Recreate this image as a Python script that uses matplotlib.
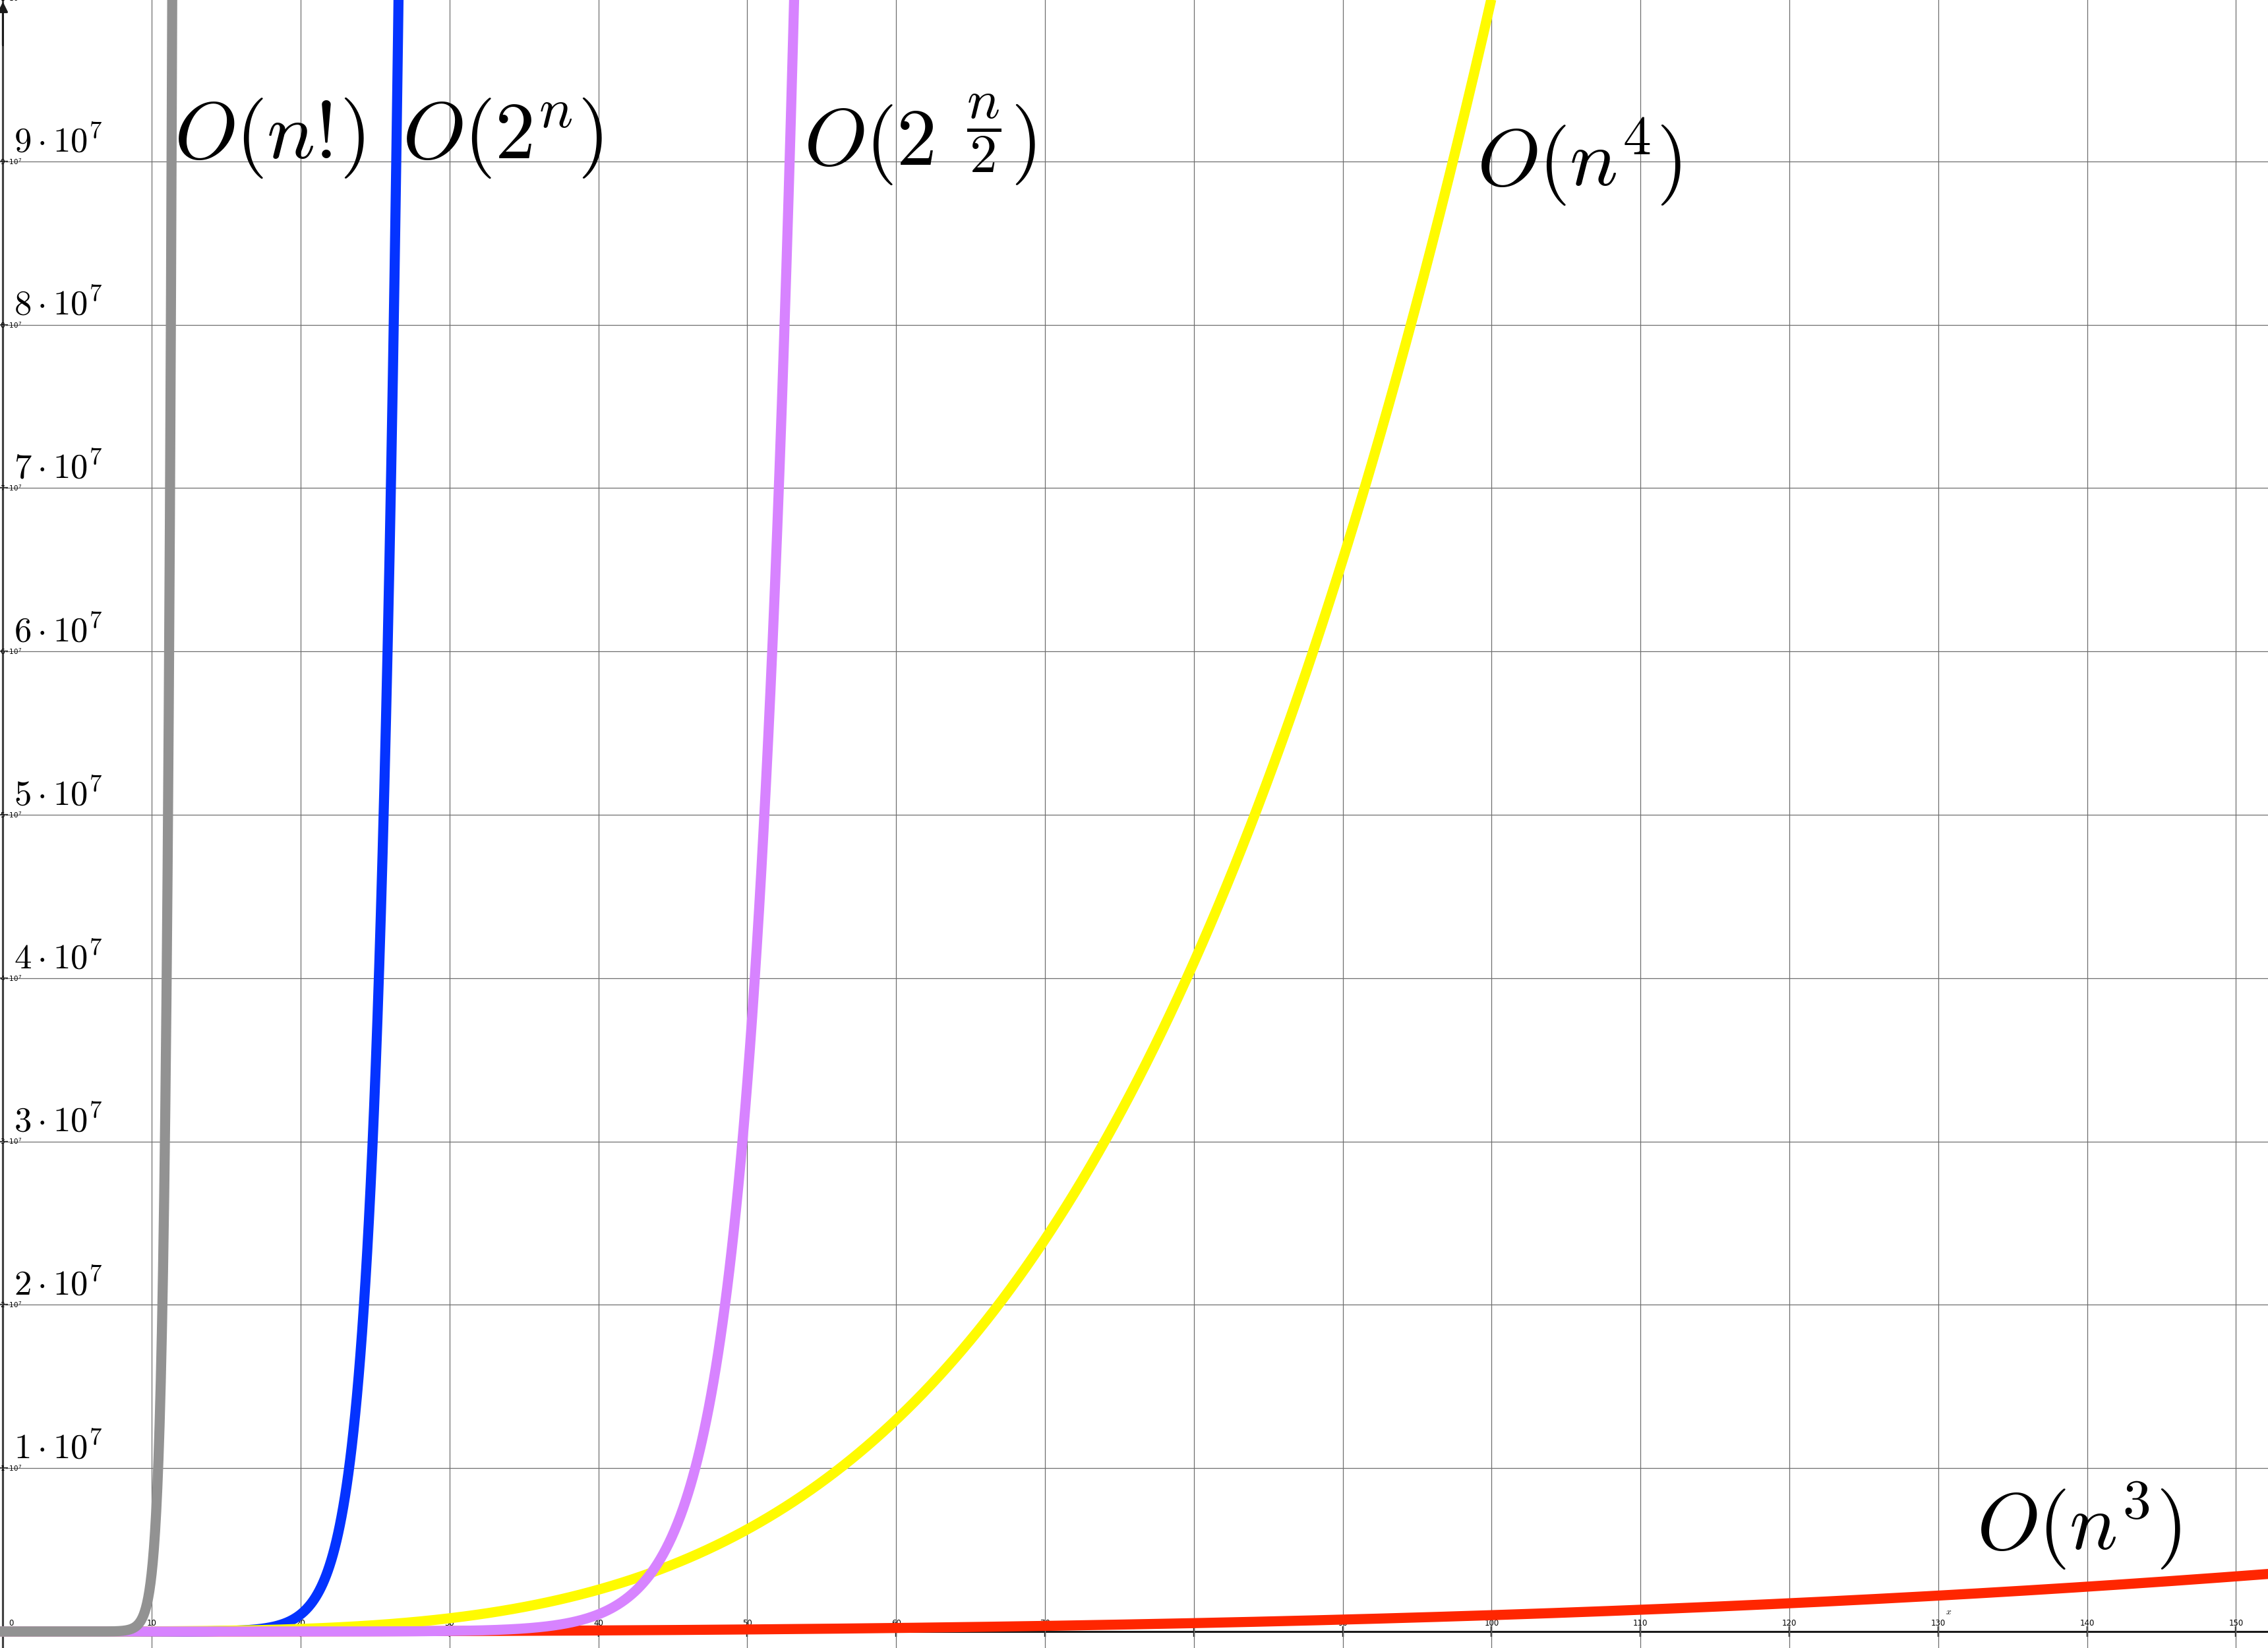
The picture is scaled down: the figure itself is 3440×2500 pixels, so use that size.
import math
import numpy as np
import matplotlib
matplotlib.use('Agg')
import matplotlib.pyplot as plt

plt.rcParams['mathtext.fontset'] = 'cm'

# growth functions shown on the chart
labels = [r'$O(n!\!)$', r'$O(2^n)$', r'$O(2\hspace{1.05})$', r'$O(n^4)$', r'$O(n^3)$']
colours = ['#929292', '#0433ff', '#d783ff', '#fffb00', '#ff2600']
layer = [5, 2, 4, 3, 1]
# label anchors (n, value)
label_x = [11.5, 26.8, 53.8, 99.0, 132.6]
label_y = [9.02e7, 9.02e7, 8.98e7, 8.85e7, 0.50e7]
# raised exponent of the 2^(n/2) label
frac_text = r'$\dfrac{n}{2}$'
frac_x, frac_y = 65.9, 9.17e7

x_ticks = [0, 10, 20, 30, 40, 50, 60, 70, 80, 90, 100, 110, 120, 130, 140, 150]
y_ticks = [1, 2, 3, 4, 5, 6, 7, 8, 9]  # multiples of 10^7

n = np.linspace(-0.2, 153, 4000)
curves = [
    np.array([math.exp(math.lgamma(v + 1)) if v < 15 else np.nan for v in n]),
    np.where(n < 30, 2.0 ** n, np.nan),
    np.where(n < 60, 2.0 ** (n / 2), np.nan),
    n ** 4,
    n ** 3,
]

fig = plt.figure(figsize=(34.41, 25), dpi=100)
ax = fig.add_axes([0, 0, 1, 1])
ax.set_xlim(-0.195, 152.2)
ax.set_ylim(-1.01e6, 9.988e7)

# grid
ax.set_xticks(x_ticks)
ax.set_yticks([k * 1e7 for k in y_ticks])
ax.grid(True, color='#6e6e6e', linewidth=0.9)
ax.tick_params(length=0, labelbottom=False, labelleft=False)
for s in ax.spines.values():
    s.set_visible(False)

# axes through the origin
ax.axhline(0, color='#1a1a1a', linewidth=2.2, zorder=0.5)
ax.axvline(0, color='#1a1a1a', linewidth=2.2, zorder=0.5)
for v in x_ticks[1:]:
    ax.plot([v, v], [0, 0], marker='|', markersize=11, color='#1a1a1a', mew=1.6, zorder=0.6)
for k in y_ticks:
    ax.plot(0, k * 1e7, marker='_', markersize=11, color='#1a1a1a', mew=1.6, zorder=0.6)
ax.annotate('', xy=(0, 9.988e7), xytext=(0, 9.7e7),
            arrowprops=dict(arrowstyle='-|>', color='#1a1a1a', lw=2.2, mutation_scale=22),
            annotation_clip=False)

# small tick labels
ax.annotate('0', (0, 0), xytext=(9, 4), textcoords='offset points', ha='center', va='bottom',
            fontsize=8.5, family='DejaVu Sans')
for v in x_ticks[1:]:
    ax.annotate(str(v), (v, 0), xytext=(0, 4), textcoords='offset points', ha='center',
                va='bottom', fontsize=8.5, family='DejaVu Sans')
for k in y_ticks + [10]:
    txt = r'$%d\cdot10^{7}$' % k if k < 10 else r'$1\cdot10^{8}$'
    ax.annotate(txt, (0, k * 1e7), xytext=(-3, 0), textcoords='offset points', ha='left',
                va='center', fontsize=7.5, math_fontfamily='dejavusans', annotation_clip=False)
ax.text(130.7, 0.12e7, r'$x$', fontsize=10, ha='center', va='center')

# large value labels
for k in y_ticks:
    ax.annotate(r'$%d\cdot10^7$' % k, (0, k * 1e7), xytext=(12, 11), textcoords='offset points',
                ha='left', va='baseline', fontsize=38)

# curves
for y, c, z in zip(curves, colours, layer):
    ax.plot(n, y, color=c, linewidth=11, zorder=2 + z, solid_capstyle='butt')

for lab, lx, ly in zip(labels, label_x, label_y):
    ax.text(lx, ly, lab, fontsize=88, ha='left', va='baseline', zorder=10)
ax.text(frac_x, frac_y, frac_text, fontsize=60, ha='center', va='center', zorder=10)

fig.savefig('out.png', dpi=100)
